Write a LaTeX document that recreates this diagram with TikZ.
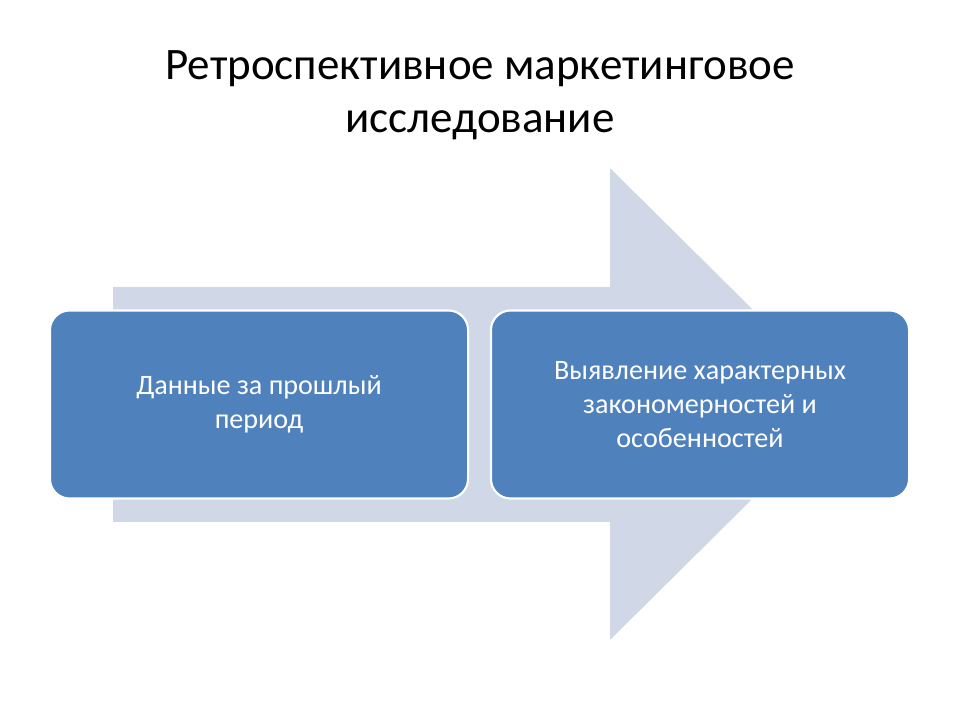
\documentclass[tikz,border=0pt]{standalone}
\usepackage{fontspec}
\setmainfont{Carlito}
\definecolor{arrowgray}{RGB}{208,216,232}
\definecolor{boxblue}{RGB}{79,129,189}
\tikzset{%
  stepbox/.style = {rectangle, rounded corners=14pt, draw=white, line width=1.5pt,%
                    fill=boxblue, text=white, align=center,%
                    minimum width=10.45cm, minimum height=4.7cm,%
                    font=\fontsize{20}{24}\selectfont},%
  title/.style   = {align=center, font=\fontsize{32}{38}\selectfont}%
}
\begin{document}
\begin{tikzpicture}[x=0.025cm,y=-0.025cm]
	\useasboundingbox (0,0) rectangle (960,720);
	\node [title] (head) at (480,95) {Ретроспективное маркетинговое\\исследование};
	% background arrow
	\fill [arrowgray] (113,287) -- (610,287) -- (610,168) -- (848,404)
		-- (610,640) -- (610,522) -- (113,522) -- cycle;
	\node [stepbox] (past) at (259,404.5) {Данные за прошлый\\период};
	\node [stepbox] (find) at (700,404.5) {Выявление характерных\\закономерностей и\\особенностей};
\end{tikzpicture}
\end{document}
